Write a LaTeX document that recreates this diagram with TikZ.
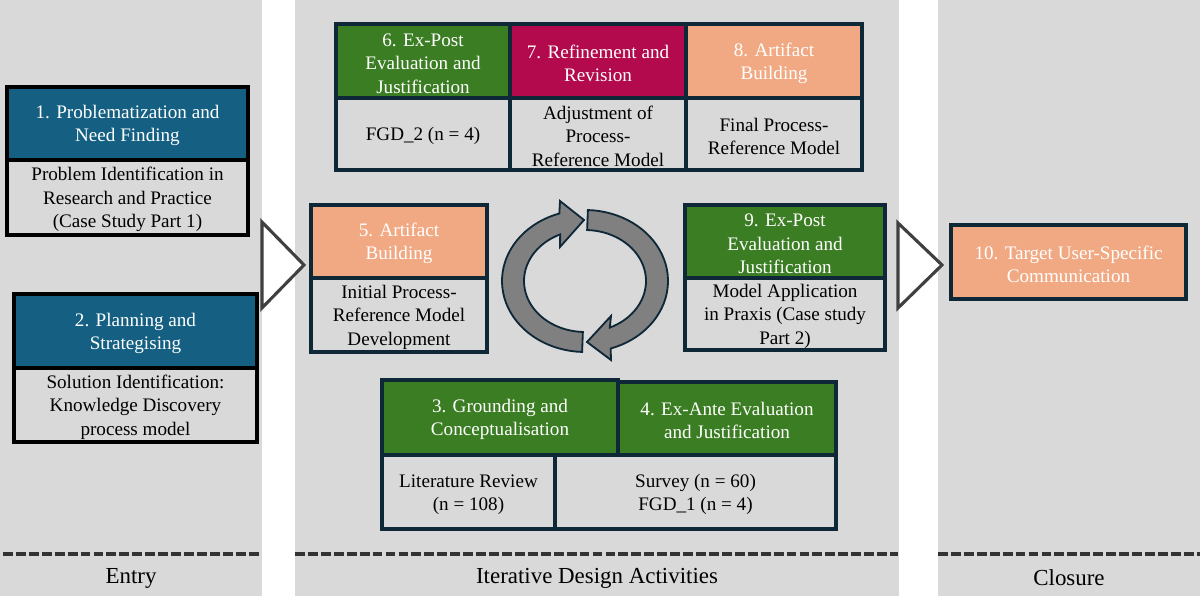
\documentclass[tikz,border=0pt]{standalone}
\usepackage{fontspec}
\setmainfont{Liberation Serif}
\usepackage{tikz}
\usetikzlibrary{arrows.meta,positioning,calc}
\definecolor{navy}{HTML}{0E2838}
\definecolor{dblue}{HTML}{156082}
\definecolor{dgreen}{HTML}{3A7D22}
\definecolor{crimson}{HTML}{B20A4C}
\definecolor{salmon}{HTML}{F1A983}
\definecolor{panelgray}{HTML}{D9D9D9}
\definecolor{chevgray}{HTML}{404040}
\newcommand{\tstrut}{\rule{0pt}{12.6pt}}

\begin{document}
\begin{tikzpicture}[
  x=0.025cm, y=-0.025cm,
  every node/.style={font=\rmfamily\fontsize{13.6}{16.6}\selectfont, align=center, inner sep=0pt},
  sz/.style 2 args={minimum width=#1*0.025cm, minimum height=#2*0.025cm},
  head/.style={rectangle, draw=navy, line width=2.2pt, text=white},
  body/.style={rectangle, draw=navy, line width=2.2pt, fill=panelgray, text=black},
  outer/.style={draw=black, line width=2.8pt},
  panel/.style={fill=panelgray},
  divider/.style={draw=black!80, line width=2.8pt, dash pattern=on 7pt off 2.2pt},
  chev/.style={fill=white, draw=chevgray, line width=2.2pt, line join=miter},
  cyc/.style={fill=black!50, draw=navy, line width=1.3pt, line join=miter},
  phase/.style={font=\rmfamily\fontsize{16.3}{19}\selectfont}
]
\useasboundingbox (0,0) rectangle (1200,596);

% panels
\fill[panel] (0,0) rectangle (262,596);
\fill[panel] (295,0) rectangle (899,596);
\fill[panel] (938,0) rectangle (1200,596);

\draw[divider] (3,554) -- (260,554);
\draw[divider] (295,554) -- (898,554);
\draw[divider] (938,554) -- (1200,554);

\node[phase] (entry) at (131,578) {Entry};
\node[phase] (iter) at (597,578) {Iterative Design Activities};
\node[phase] (closure) at (1069,578) {Closure};

% chevrons between panels
\draw[chev] (262,222) -- (304,265) -- (262,308) -- cycle;
\draw[chev] (898,223) -- (942,265) -- (898,308) -- cycle;

% entry
\node[head, outer, fill=dblue, sz={241}{73}] (h1) at (127.5,123.5) {\tstrut 1. Problematization and\\Need Finding};
\node[body, outer, sz={241}{75}] (b1) at (127.5,197.5) {\tstrut Problem Identification in\\Research and Practice\\(Case Study Part 1)};
\node[head, outer, fill=dblue, sz={243}{74}] (h2) at (135.5,331) {\tstrut 2. Planning and\\Strategising};
\node[body, outer, sz={243}{74}] (b2) at (135.5,405) {\tstrut Solution Identification:\\Knowledge Discovery\\process model};

% top table
\node[head, fill=dgreen, sz={174}{74}] (h6) at (423,61) {\tstrut 6. Ex-Post\\Evaluation and\\Justification};
\node[head, fill=crimson, sz={176}{74}] (h7) at (598,61) {\tstrut 7. Refinement and\\Revision};
\node[head, fill=salmon, sz={176}{74}] (h8) at (774,61) {\tstrut 8. Artifact\\Building};
\node[body, sz={174}{72}] (b6) at (423,134) {\tstrut FGD\_2 (n = 4)};
\node[body, sz={176}{72}] (b7) at (598,134) {\tstrut Adjustment of\\Process-\\Reference Model};
\node[body, sz={176}{72}] (b8) at (774,134) {\tstrut Final Process-\\Reference Model};

% middle row
\node[head, fill=salmon, sz={176}{73}] (h5) at (399,241.5) {\tstrut 5. Artifact\\Building};
\node[body, sz={176}{74}] (b5) at (399,315) {\tstrut Initial Process-\\Reference Model\\Development};
\node[head, fill=dgreen, sz={200}{73}] (h9) at (785,241.5) {\tstrut 9. Ex-Post\\Evaluation and\\Justification};
\node[body, sz={200}{72}] (b9) at (785,314) {\tstrut Model Application\\in Praxis (Case study\\Part 2)};

% cycle
\filldraw[cyc] plot[domain=92:252, samples=40] ({585+83*cos(\x)},{281+71*sin(\x)})
  -- (560,201) -- (584,220) -- (560,247)
  -- plot[domain=246:92, samples=40] ({585+61*cos(\x)},{281+51*sin(\x)}) -- cycle;
\filldraw[cyc] plot[domain=-88:72, samples=40] ({585+83*cos(\x)},{281+71*sin(\x)})
  -- (611,360) -- (587,342) -- (611,316)
  -- plot[domain=66:-88, samples=40] ({585+61*cos(\x)},{281+51*sin(\x)}) -- cycle;

% bottom table
\node[head, fill=dgreen, sz={236}{75}] (h3) at (500,417.5) {\tstrut 3. Grounding and\\Conceptualisation};
\node[head, fill=dgreen, sz={218}{73}] (h4) at (727,418.5) {\tstrut 4. Ex-Ante Evaluation\\and Justification};
\node[body, sz={173}{74}] (b3) at (468.5,492) {\tstrut Literature Review\\(n = 108)};
\node[body, sz={281}{74}] (b4) at (695.5,492) {\tstrut Survey (n = 60)\\FGD\_1 (n = 4)};

% closure
\node[head, fill=salmon, sz={235}{74}] (h10) at (1068.5,262) {\tstrut 10. Target User-Specific\\Communication};
\end{tikzpicture}
\end{document}
